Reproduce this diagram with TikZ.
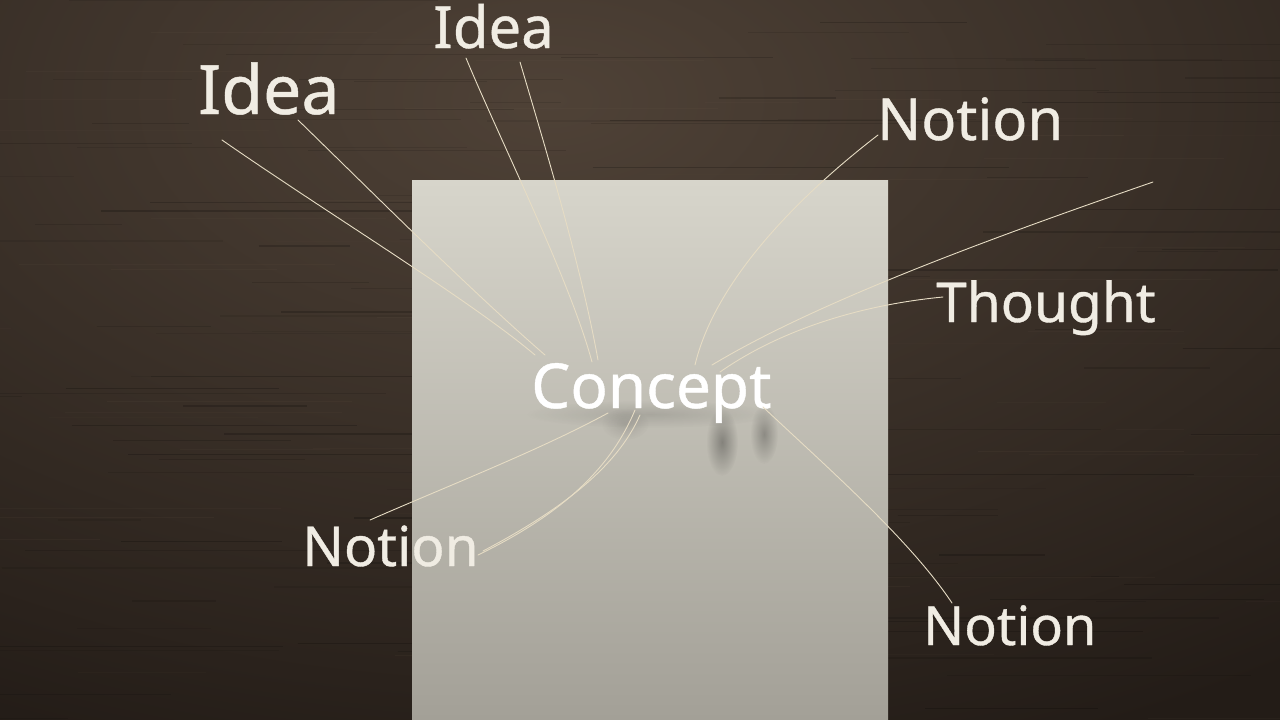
\documentclass[tikz,border=0pt]{standalone}
\usepackage{fontspec}
\setmainfont{Noto Sans}
\newfontfamily\lblfont{Noto Sans}[FakeBold=0.7]
\usetikzlibrary{fadings}
\tikzfading[name=softout, inner color=transparent!0, outer color=transparent!100]
\begin{document}
\begin{tikzpicture}[x=1pt,y=-1pt,
  lbl/.style={anchor=base west,inner sep=0pt,text=labelwhite},
  thread/.style={draw=threadc,line width=0.9pt,line cap=round},
  softshadow/.style={fill=black,path fading=softout}]
\definecolor{woodbase}{HTML}{231C17}
\definecolor{woodlight}{HTML}{4F4237}
\definecolor{grainlight}{HTML}{6B5A4A}
\definecolor{papertop}{HTML}{D7D5CB}
\definecolor{paperbot}{HTML}{A3A097}
\definecolor{labelwhite}{HTML}{F0ECE3}
\definecolor{threadc}{HTML}{E6DCC4}
\useasboundingbox (0,0) rectangle (1280,720);
% wood background
\fill[woodbase] (0,0) rectangle (1280,720);
\begin{scope}
\clip (0,0) rectangle (1280,720);
\shade[inner color=woodlight,outer color=woodbase] (-700,-600) rectangle (1800,800);
\pgfmathsetseed{7}
\foreach \i in {1,...,120}{
  \pgfmathsetmacro{\yy}{rnd*720}
  \pgfmathsetmacro{\xa}{rnd*1300-100}
  \pgfmathsetmacro{\ll}{80+rnd*350}
  \pgfmathsetmacro{\ww}{0.4+rnd*1.4}
  \pgfmathsetmacro{\op}{0.05+rnd*0.15}
  \draw[black,opacity=\op,line width=\ww pt] (\xa,\yy) -- ++(\ll,0);
}
\foreach \i in {1,...,60}{
  \pgfmathsetmacro{\yy}{rnd*720}
  \pgfmathsetmacro{\xa}{rnd*1300-100}
  \pgfmathsetmacro{\ll}{60+rnd*300}
  \pgfmathsetmacro{\op}{0.04+rnd*0.08}
  \draw[grainlight,opacity=\op,line width=0.8pt] (\xa,\yy) -- ++(\ll,0);
}
\end{scope}
% paper
\shade[top color=papertop,bottom color=paperbot] (412,180) rectangle (888,720);
% Concept soft shadows
\fill[softshadow,opacity=0.12] (650,414) ellipse (125 and 14);
\fill[softshadow,opacity=0.30] (722,442) ellipse (16 and 34);
\fill[softshadow,opacity=0.26] (764,434) ellipse (14 and 30);
\fill[softshadow,opacity=0.12] (625,424) ellipse (24 and 16);
% labels
\node[lbl,font=\lblfont\fontsize{58}{60}\selectfont] (idea1) at (433,48) {Idea};
\node[lbl,font=\lblfont\fontsize{68}{70}\selectfont] (idea2) at (198,114) {Idea};
\node[lbl,font=\lblfont\fontsize{58}{60}\selectfont] (notion1) at (877,140) {Notion};
\node[lbl,font=\lblfont\fontsize{55}{57}\selectfont] (thought) at (936,322) {Thought};
\node[lbl,font=\lblfont\fontsize{62}{64}\selectfont,text=white] (concept) at (531,408) {Concept};
\node[lbl,font=\lblfont\fontsize{55}{57}\selectfont] (notion2) at (302,566) {Notion};
\node[lbl,font=\lblfont\fontsize{54}{56}\selectfont] (notion3) at (923,645) {Notion};
% thread end points
\coordinate (a1) at (222,140); \coordinate (b1) at (535,355);
\coordinate (a2) at (298,120); \coordinate (b2) at (545,355);
\coordinate (a3) at (466,58);  \coordinate (b3) at (592,362);
\coordinate (a4) at (520,62);  \coordinate (b4) at (598,360);
\coordinate (a5) at (878,135); \coordinate (b5) at (695,365);
\coordinate (a6) at (1153,182); \coordinate (b6) at (712,365);
\coordinate (a7) at (943,297); \coordinate (b7) at (720,372);
\coordinate (a8) at (370,520); \coordinate (b8) at (608,413);
\coordinate (a9) at (478,555); \coordinate (b9) at (635,410);
\coordinate (a10) at (483,551); \coordinate (b10) at (640,415);
\coordinate (a11) at (763,407); \coordinate (b11) at (952,603);
% threads
\draw[thread] (a1) .. controls (330,215) and (470,300) .. (b1);
\draw[thread] (a2) .. controls (370,190) and (470,290) .. (b2);
\draw[thread] (a3) .. controls (500,140) and (570,280) .. (b3);
\draw[thread] (a4) .. controls (540,130) and (580,260) .. (b4);
\draw[thread] (a5) .. controls (800,195) and (715,280) .. (b5);
\draw[thread] (a6) .. controls (1000,235) and (820,300) .. (b6);
\draw[thread] (a7) .. controls (860,305) and (780,330) .. (b7);
\draw[thread] (a8) .. controls (450,485) and (540,450) .. (b8);
\draw[thread] (a9) .. controls (560,515) and (610,470) .. (b9);
\draw[thread] (a10) .. controls (565,508) and (618,465) .. (b10);
\draw[thread] (a11) .. controls (830,470) and (910,540) .. (b11);
\end{tikzpicture}
\end{document}
